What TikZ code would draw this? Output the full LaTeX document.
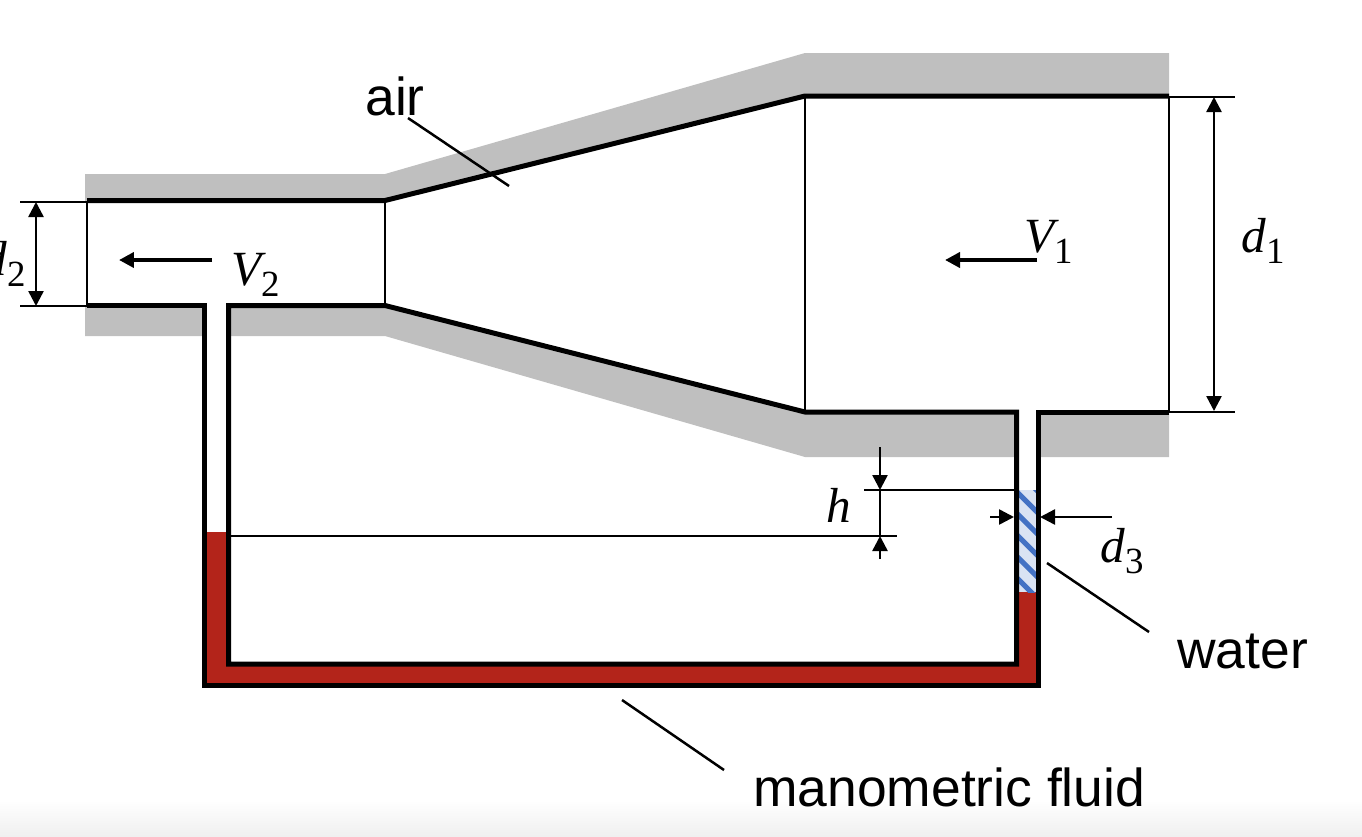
\documentclass[tikz,border=0pt]{standalone}
\usepackage{fontspec}
\setmainfont{Liberation Serif}
\newfontfamily\labelfont{Liberation Sans}
\usepackage{xcolor}
\usetikzlibrary{arrows.meta}

\definecolor{wallgray}{HTML}{BFBFBF}
\definecolor{fluidred}{HTML}{B3241A}
\definecolor{waterblue}{HTML}{4472C4}
\definecolor{waterpale}{HTML}{DAE3F3}

\newcommand{\quant}[3][0em]{{\fontsize{28}{30}\selectfont\textit{#2}\kern#1\raisebox{-0.24em}{\fontsize{21}{22}\selectfont #3}}}

\begin{document}
\begin{tikzpicture}[x=0.02cm,y=-0.02cm]
	\tikzstyle{wall} = [line width=0.1cm,line join=miter]
	\tikzstyle{section} = [line width=0.05cm]
	\tikzstyle{thin} = [line width=0.05cm]
	\tikzstyle{vedge} = [-{Triangle[length=0.3cm,width=0.3cm]},line width=0.05cm]
	\tikzstyle{dedge} = [{Triangle[length=0.3cm,width=0.3cm]}-{Triangle[length=0.3cm,width=0.3cm]},line width=0.05cm]
	\tikzstyle{flow} = [-{Triangle[length=0.3cm,width=0.3cm]},line width=0.085cm]
	\tikzstyle{word} = [anchor=base west,inner sep=0pt,font=\labelfont\fontsize{30.4}{32}\selectfont]
	\tikzstyle{quantity} = [anchor=base west,inner sep=0pt]

	\clip (0,0) rectangle (1362,836);
	\shade[top color=white,bottom color=black!6] (0,800) rectangle (1362,836);

	% walls of the duct
	\fill[wallgray] (85,174) -- (385,174) -- (805,53) -- (1169,53) -- (1169,96) -- (805,96) -- (385,201) -- (85,201) -- cycle;
	\fill[wallgray] (85,305) -- (385,305) -- (805,412) -- (1169,412) -- (1169,457) -- (805,457) -- (385,336) -- (85,336) -- cycle;
	\fill[white] (204,300) rectangle (228.5,340);
	\fill[white] (1016.5,405) rectangle (1038,460);

	% fluids
	\fill[fluidred] (204,532) -- (228.5,532) -- (228.5,664) -- (1016.5,664) -- (1016.5,592) -- (1038,592) -- (1038,685) -- (204,685) -- cycle;
	\fill[waterpale] (1016.5,490) rectangle (1038,592);
	\begin{scope}
		\clip (1016.5,490) rectangle (1038,592);
		\foreach \y in {468.5,490,511.5,533,554.5,576} {
			\draw[waterblue,line width=0.1cm] (1015,\y) -- (1040,\y+25);
		}
	\end{scope}

	% outline
	\draw[section] (87,201) -- (87,305);
	\draw[section] (385,201) -- (385,305);
	\draw[section] (805,96) -- (805,412);
	\draw[section] (1169,96) -- (1169,412);
	\draw[wall] (87,200.5) -- (385,200.5) -- (805,96) -- (1169,96);
	\draw[wall] (87,305.5) -- (204,305.5) -- (204,685) -- (1038,685) -- (1038,412) -- (1169,412);
	\draw[wall] (228.5,305.5) -- (385,305.5) -- (805,412) -- (1016.5,412) -- (1016.5,664) -- (228.5,664) -- cycle;

	\coordinate (a1) at (408,118);
	\coordinate (a2) at (509,186);
	\coordinate (w1) at (1047,563);
	\coordinate (w2) at (1149,632);
	\coordinate (m1) at (622,700);
	\coordinate (m2) at (724,770);

	\coordinate (d1a) at (1169,97);
	\coordinate (d1b) at (1235,97);
	\coordinate (d1c) at (1169,412);
	\coordinate (d1d) at (1235,412);
	\coordinate (d1t) at (1214,97);
	\coordinate (d1u) at (1214,411);

	\coordinate (d2a) at (20,202);
	\coordinate (d2b) at (87,202);
	\coordinate (d2c) at (20,306);
	\coordinate (d2d) at (87,306);
	\coordinate (d2t) at (36,202);
	\coordinate (d2u) at (36,306);

	\coordinate (h1) at (864,490);
	\coordinate (h2) at (1017,490);
	\coordinate (h3) at (228,536);
	\coordinate (h4) at (897,536);
	\coordinate (h5) at (880,447);
	\coordinate (h6) at (880,490);
	\coordinate (h7) at (880,559);
	\coordinate (h8) at (880,536);

	\coordinate (e1) at (990,517);
	\coordinate (e2) at (1014,517);
	\coordinate (e3) at (1112,517);
	\coordinate (e4) at (1040,517);

	\coordinate (v1a) at (1037,260);
	\coordinate (v1b) at (945,260);
	\coordinate (v2a) at (212,260);
	\coordinate (v2b) at (119,260);

	\draw[thin] (a1) -- (a2);
	\draw[thin] (w1) -- (w2);
	\draw[thin] (m1) -- (m2);

	\draw[thin] (d1a) -- (d1b);
	\draw[thin] (d1c) -- (d1d);
	\draw[dedge] (d1t) -- (d1u);

	\draw[thin] (d2a) -- (d2b);
	\draw[thin] (d2c) -- (d2d);
	\draw[dedge] (d2t) -- (d2u);

	\draw[thin] (h1) -- (h2);
	\draw[thin] (h3) -- (h4);
	\draw[vedge] (h5) -- (h6);
	\draw[vedge] (h7) -- (h8);
	\draw[thin] (h6) -- (h8);

	\draw[vedge] (e1) -- (e2);
	\draw[vedge] (e3) -- (e4);

	\draw[flow] (v1a) -- (v1b);
	\draw[flow] (v2a) -- (v2b);

	\node[word] (air) at (365,115) {air};
	\node[word] (water) at (1177,668) {water};
	\node[word] (fluid) at (753,806) {manometric fluid};

	\node[quantity] (V1) at (1024,252) {\quant[-0.1em]{V}{1}};
	\node[quantity] (V2) at (231,285) {\quant[-0.1em]{V}{2}};
	\node[quantity] (d1) at (1241,252) {\quant{d}{1}};
	\node[quantity] (d2) at (-18,275) {\quant{d}{2}};
	\node[quantity] (d3) at (1100,562) {\quant{d}{3}};
	\node[quantity] (h) at (826,522) {\quant{h}{}};
\end{tikzpicture}
\end{document}
